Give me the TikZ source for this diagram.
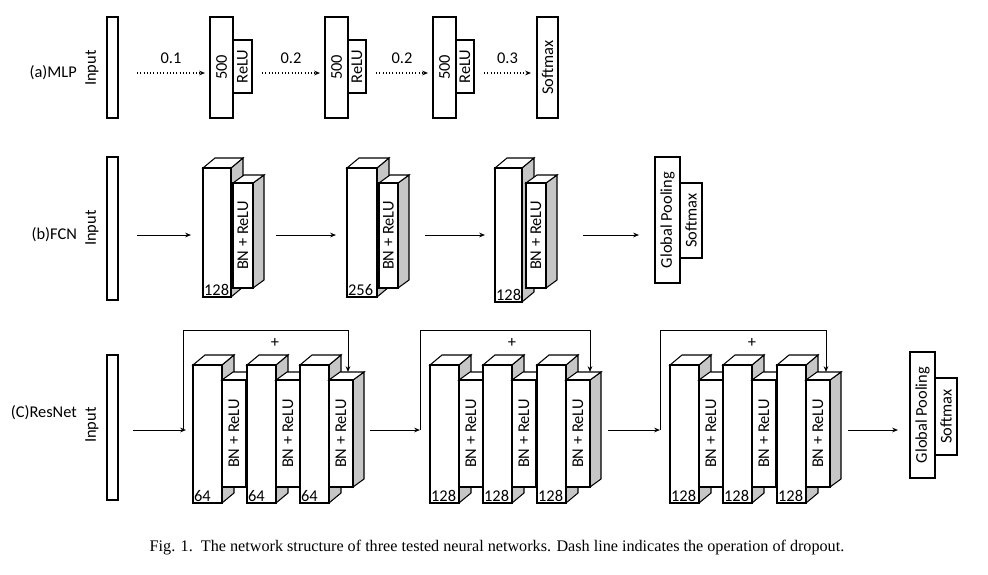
\documentclass[tikz,border=0pt]{standalone}
\usepackage{fontspec}
\setmainfont{Carlito}
\newfontfamily\capfont{Liberation Serif}
\usetikzlibrary{fit,arrows.meta}
\tikzset{x=0.03cm,y=-0.03cm,
 box/.style={draw,fill=white,line width=0.9pt},
 arr/.style={-{Stealth[length=5pt,width=4pt]},line width=0.8pt},
 darr/.style={arr,dotted,line width=1pt},
 lab/.style={font=\fontsize{14}{16}\selectfont},
 rot/.style={lab,rotate=90},
 rowlab/.style={lab,anchor=east},
 side/.style={draw,fill=gray!45,line width=0.9pt},
 top/.style={draw,fill=white,line width=0.9pt}}
\newcommand\mycube[7]{% name x1 y1 x2 y2 dx dy
 \draw[side] (#4,#3)--(#4+#6,#3-#7)--(#4+#6,#5-#7)--(#4,#5)--cycle;
 \draw[top] (#2,#3)--(#2+#6,#3-#7)--(#4+#6,#3-#7)--(#4,#3)--cycle;
 \draw[box] (#2,#3) rectangle (#4,#5);
 \node[inner sep=0,fit={(#2,#3)(#4,#5)}] (#1) {};}
\newcommand\myrect[5]{\draw[box] (#2,#3) rectangle (#4,#5);
 \node[inner sep=0,fit={(#2,#3)(#4,#5)}] (#1) {};}
\begin{document}
\begin{tikzpicture}
\useasboundingbox (0,0) rectangle (988,574);
% ---------- MLP
\node[rowlab] (la) at (81,73) {(a)MLP};
\myrect{ai}{107}{17}{118}{118}\node[rot] (ait) at (92,68) {Input};
\myrect{a1}{210}{17}{233}{118}\node[rot] at (a1) {500};
\myrect{r1}{233}{40}{252}{93}\node[rot] at (r1) {ReLU};
\myrect{a2}{325}{17}{348}{118}\node[rot] at (a2) {500};
\myrect{r2}{348}{40}{366}{93}\node[rot] at (r2) {ReLU};
\myrect{a3}{433}{17}{456}{118}\node[rot] at (a3) {500};
\myrect{r3}{456}{40}{474}{93}\node[rot] at (r3) {ReLU};
\myrect{a4}{537}{17}{558}{118}\node[rot] at (a4) {Softmax};
\coordinate (d1s) at (137,73);\coordinate (d1e) at (205,73);
\coordinate (d2s) at (262,73);\coordinate (d2e) at (320,73);
\coordinate (d3s) at (376,73);\coordinate (d3e) at (428,73);
\coordinate (d4s) at (484,73);\coordinate (d4e) at (531,73);
\draw[darr] (d1s)--(d1e) node[lab,midway,above=4pt] {0.1};
\draw[darr] (d2s)--(d2e) node[lab,midway,above=4pt] {0.2};
\draw[darr] (d3s)--(d3e) node[lab,midway,above=4pt] {0.2};
\draw[darr] (d4s)--(d4e) node[lab,midway,above=4pt] {0.3};
% ---------- FCN
\node[rowlab] (lb) at (81,235) {(b)FCN};
\myrect{bi}{107}{157}{118}{300}\node[rot] at (92,228) {Input};
\mycube{b1}{203}{168}{231}{297}{12}{10}
\mycube{n1}{233}{183}{253}{288}{11}{8}\node[rot] at (n1) {BN + ReLU};
\node[lab,anchor=south west,inner sep=1pt] at (b1.south west) {128};
\mycube{b2}{347}{168}{377}{297}{12}{10}
\mycube{n2}{379}{183}{398}{288}{11}{8}\node[rot] at (n2) {BN + ReLU};
\node[lab,anchor=south west,inner sep=1pt] at (b2.south west) {256};
\mycube{b3}{495}{168}{522}{302}{12}{10}
\mycube{n3}{526}{183}{546}{288}{11}{8}\node[rot] at (n3) {BN + ReLU};
\node[lab,anchor=south west,inner sep=1pt] at (b3.south west) {128};
\myrect{gp1}{655}{157}{680}{283}\node[rot] at (gp1) {Global Pooling};
\myrect{sm1}{680}{183}{702}{258}\node[rot] at (sm1) {Softmax};
\coordinate (e1s) at (137,235);\coordinate (e1e) at (191,235);
\coordinate (e2s) at (276,235);\coordinate (e2e) at (336,235);
\coordinate (e3s) at (425,235);\coordinate (e3e) at (485,235);
\coordinate (e4s) at (583,235);\coordinate (e4e) at (639,235);
\draw[arr] (e1s)--(e1e);\draw[arr] (e2s)--(e2e);\draw[arr] (e3s)--(e3e);\draw[arr] (e4s)--(e4e);
% ---------- ResNet
\node[rowlab] (lc) at (81,413) {(C)ResNet};
\myrect{ci}{107}{355}{118}{500}\node[rot] at (92,425) {Input};
\foreach \g/\xa/\xb/\xc/\num in {1/193/247/300/64, 2/430/483/537/128, 3/670/723/777/128}{
 \foreach \k/\xx in {1/\xa,2/\xb,3/\xc}{
  \mycube{c\g\k}{\xx}{365}{\xx+29}{503}{12}{10}
  \mycube{m\g\k}{\xx+29}{380}{\xx+53}{487}{11}{8}
  \node[rot] at (m\g\k) {BN + ReLU};
  \node[lab,anchor=south west,inner sep=1pt] at (c\g\k.south west) {\num};
 }}
\myrect{gp2}{910}{352}{935}{478}\node[rot] at (gp2) {Global Pooling};
\myrect{sm2}{935}{378}{957}{455}\node[rot] at (sm2) {Softmax};
\coordinate (f1s) at (133,430);\coordinate (f1e) at (186,430);
\coordinate (f2s) at (370,430);\coordinate (f2e) at (420,430);
\coordinate (f3s) at (608,430);\coordinate (f3e) at (660,430);
\coordinate (f4s) at (848,430);\coordinate (f4e) at (898,430);
\draw[arr] (f1s)--(f1e);\draw[arr] (f2s)--(f2e);\draw[arr] (f3s)--(f3e);\draw[arr] (f4s)--(f4e);
\coordinate (s1a) at (183,430);\coordinate (s1b) at (348,372);
\coordinate (s2a) at (420,430);\coordinate (s2b) at (590,372);
\coordinate (s3a) at (660,430);\coordinate (s3b) at (826,372);
\draw[arr] (s1a)--(183,330)-|(s1b);\node[lab] at (275,343) {+};
\draw[arr] (s2a)--(420,330)-|(s2b);\node[lab] at (512,343) {+};
\draw[arr] (s3a)--(660,330)-|(s3b);\node[lab] at (752,343) {+};
% caption
\node[font=\capfont\fontsize{13.8}{16}\selectfont] (cap) at (497,548) {Fig. 1.\ \ The network structure of three tested neural networks. Dash line indicates the operation of dropout.};
\end{tikzpicture}
\end{document}
